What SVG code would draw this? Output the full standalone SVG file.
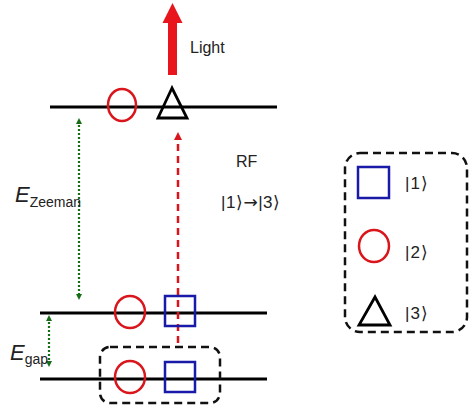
<svg xmlns="http://www.w3.org/2000/svg" width="474" height="409" viewBox="0 0 474 409">
<defs>
<style>
.lvl{stroke:#000;stroke-width:3;fill:none}
.circ{stroke:#d9161c;stroke-width:2.5;fill:none}
.sq{stroke:#1a1aa8;stroke-width:2.5;fill:none}
.tri{stroke:#000;stroke-width:2.8;fill:none;stroke-linejoin:miter}
.box{stroke:#111;stroke-width:2.5;fill:none;stroke-dasharray:8 5}
.grn{stroke:#176e17;stroke-width:2.2;fill:none;stroke-dasharray:2 2}
.t{font-family:"Liberation Sans",Arial,sans-serif;fill:#222}
.ar{font-family:"DejaVu Sans",sans-serif}
</style>
<marker id="gh" viewBox="0 0 10 10" refX="5" refY="5" markerWidth="6" markerHeight="6" orient="auto-start-reverse" markerUnits="userSpaceOnUse">
<path d="M0,0 L10,5 L0,10 z" fill="#176e17"/>
</marker>
<marker id="rh" viewBox="0 0 10 10" refX="5" refY="5" markerWidth="8" markerHeight="8" orient="auto" markerUnits="userSpaceOnUse">
<path d="M0,0 L10,5 L0,10 z" fill="#d9161c"/>
</marker>
</defs>
<rect width="474" height="409" fill="#fff"/>

<g id="levels">
<line class="lvl" x1="50" y1="107" x2="277" y2="107"/>
<line class="lvl" x1="40" y1="313" x2="267" y2="313"/>
<line class="lvl" x1="40" y1="379" x2="267" y2="379"/>
</g>

<g id="connectors">
<line class="grn" x1="79" y1="121" x2="79" y2="297" marker-start="url(#gh)" marker-end="url(#gh)"/>
<line class="grn" x1="49" y1="318" x2="49" y2="364" marker-start="url(#gh)" marker-end="url(#gh)"/>
<line x1="178" y1="343" x2="178" y2="136" stroke="#d9161c" stroke-width="2.5" stroke-dasharray="7 5" marker-end="url(#rh)"/>
<g id="light-arrow">
<rect x="168" y="21" width="9" height="54" fill="#e8161c"/>
<path d="M162.5,23 L172.5,3 L182.5,23 z" fill="#e8161c"/>
</g>
</g>

<g id="top-states">
<ellipse class="circ" cx="122" cy="105" rx="14" ry="16"/>
<path class="tri" d="M172,88 L158,118 L187,118 z"/>
</g>

<g id="middle-states">
<ellipse class="circ" cx="130" cy="312" rx="15" ry="16"/>
<rect class="sq" x="165" y="296" width="30" height="30"/>
</g>

<g id="bottom-states">
<rect class="box" x="100" y="347" width="120" height="56" rx="10"/>
<ellipse class="circ" cx="130" cy="377" rx="15" ry="16"/>
<rect class="sq" x="165" y="362" width="30" height="30"/>
</g>

<g id="legend">
<rect class="box" x="345" y="153" width="122" height="179" rx="15"/>
<rect class="sq" x="358" y="167" width="31" height="31"/>
<ellipse class="circ" cx="374" cy="246" rx="15" ry="16"/>
<path class="tri" d="M375,297 L359,325 L390,325 z"/>
<text class="t" x="405" y="189" font-size="17" letter-spacing="1">|1⟩</text>
<text class="t" x="405" y="258" font-size="17" letter-spacing="1">|2⟩</text>
<text class="t" x="405" y="319" font-size="17" letter-spacing="1">|3⟩</text>
</g>

<g id="labels">
<text class="t" x="190" y="53" font-size="16">Light</text>
<text class="t" x="236" y="167" font-size="16">RF</text>
<text class="t" x="221" y="208" font-size="17" letter-spacing="0.5">|1⟩<tspan class="ar" font-size="17">→</tspan>|3⟩</text>
<text class="t" x="15" y="202" font-size="22" font-style="italic">E<tspan font-size="14" font-style="normal" dy="5">Zeeman</tspan></text>
<text class="t" x="10" y="360" font-size="22" font-style="italic">E<tspan font-size="14" font-style="normal" dy="4">gap</tspan></text>
</g>
</svg>
